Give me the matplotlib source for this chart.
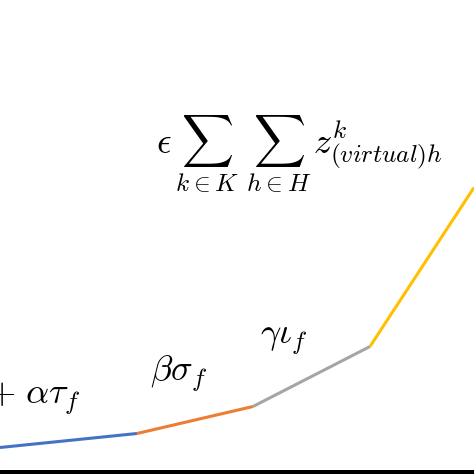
import matplotlib
matplotlib.use('Agg')
import matplotlib.pyplot as plt

plt.rcParams['mathtext.fontset'] = 'cm'

# breakpoints of the piecewise linear cost curve
x_pts = [0, 137, 253, 370, 474]
y_pts = [24, 38, 65, 125, 284]
seg_colors = ['#4472C4', '#ED7D31', '#A5A5A5', '#FFC000']

# labels of the segments
etiquetas = [r'$+\ \alpha\tau_f$', r'$\beta\sigma_f$', r'$\gamma\iota_f$',
             r'$\epsilon\,\sum_{k\in K}\ \sum_{h\in H}\,z^k_{(virtual)h}$']
etiq_x = [-13, 150, 260, 156]
etiq_y = [68, 91, 128, 317]

fig = plt.figure(figsize=(4.74, 4.74), dpi=100)
ax = fig.add_axes([0, 2.5 / 474, 1, 471.5 / 474])

for i in range(len(seg_colors)):
    ax.plot(x_pts[i:i + 2], y_pts[i:i + 2], color=seg_colors[i], lw=2.2,
            solid_capstyle='butt')

for t, xx, yy in zip(etiquetas, etiq_x, etiq_y):
    ax.text(xx, yy, t, fontsize=26, va='baseline', ha='left')

ax.set_xlim(0, 474)
ax.set_ylim(0, 471.5)
for s in ['top', 'left', 'right']:
    ax.spines[s].set_visible(False)
ax.spines['bottom'].set_linewidth(3.6)
ax.spines['bottom'].set_color('black')
ax.set_xticks([])
ax.set_yticks([])

fig.savefig('out.png', dpi=100)
